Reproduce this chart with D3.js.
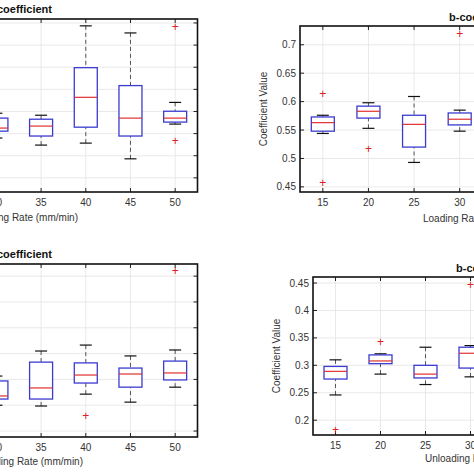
<!DOCTYPE html><html><head><meta charset="utf-8">
<script src="https://cdn.jsdelivr.net/npm/d3@7"></script>
<style>body{margin:0;background:#fff}svg{display:block}</style></head><body>
<script>
const ticksLeftTop=[0.3,0.4,0.5,0.6,0.7,0.8,0.9,1.0];
const ticksLeftBot=[0.2,0.3,0.4,0.5,0.6,0.7,0.8];
const ticksRightTop=[0.45,0.5,0.55,0.6,0.65,0.7];
const ticksRightBot=[0.2,0.25,0.3,0.35,0.4,0.45];
const xCats=[15,20,25,30,35,40,45,50];
// [cat, whiskerLow, q1, median, q3, whiskerHigh, outliers]
const statsTL=[[30,0.480,0.511,0.525,0.570,0.592,[]],[35,0.448,0.489,0.534,0.565,0.583,[]],[40,0.457,0.529,0.664,0.798,0.987,[]],[45,0.386,0.489,0.570,0.717,0.955,[]],[50,0.543,0.552,0.570,0.601,0.641,[0.982,0.466]]];
const statsTR=[[15,0.544,0.548,0.563,0.573,0.576,[0.613,0.456]],[20,0.553,0.571,0.583,0.592,0.598,[0.516]],[25,0.493,0.520,0.560,0.576,0.609,[]],[30,0.548,0.559,0.569,0.580,0.585,[0.719]]];
const statsBL=[[30,0.300,0.324,0.336,0.394,0.413,[]],[35,0.297,0.324,0.367,0.467,0.510,[]],[40,0.343,0.386,0.417,0.464,0.533,[0.258]],[45,0.312,0.370,0.421,0.444,0.491,[]],[50,0.370,0.398,0.425,0.471,0.514,[0.820]]];
const statsBR=[[15,0.246,0.275,0.289,0.298,0.310,[0.183]],[20,0.284,0.303,0.308,0.319,0.321,[0.343]],[25,0.265,0.277,0.284,0.300,0.333,[]],[30,0.279,0.295,0.322,0.333,0.336,[0.447]]];

const svg=d3.select("body").append("svg").attr("width",474).attr("height",474).style("font-family","Arial, 'Liberation Sans', sans-serif");

function panel(o){
  const x=d3.scaleLinear().domain([12.5,52.5]).range(o.xr);
  const y=d3.scaleLinear().domain(o.yd).range(o.yr);
  const g=svg.append("g");
  const [x0,x1]=o.xr,[yb,yt]=o.yr;
  const vis=xCats.filter(d=>x(d)>-5&&x(d)<480);
  g.selectAll(".gx").data(vis).join("line").attr("x1",d=>x(d)).attr("x2",d=>x(d)).attr("y1",yt).attr("y2",yb).attr("stroke","#e3e3e3").attr("stroke-width",0.8);
  g.selectAll(".gy").data(o.ticks).join("line").attr("x1",x0).attr("x2",x1).attr("y1",d=>y(d)).attr("y2",d=>y(d)).attr("stroke","#e3e3e3").attr("stroke-width",0.8);
  g.selectAll(".tx").data(vis).join("line").attr("x1",d=>x(d)).attr("x2",d=>x(d)).attr("y1",yb).attr("y2",yb-4).attr("stroke","#222");
  g.selectAll(".tx2").data(vis).join("line").attr("x1",d=>x(d)).attr("x2",d=>x(d)).attr("y1",yt).attr("y2",yt+4).attr("stroke","#222");
  g.selectAll(".ty").data(o.ticks).join("line").attr("x1",x0).attr("x2",x0+4).attr("y1",d=>y(d)).attr("y2",d=>y(d)).attr("stroke","#222");
  g.selectAll(".ty2").data(o.ticks).join("line").attr("x1",x1).attr("x2",x1-4).attr("y1",d=>y(d)).attr("y2",d=>y(d)).attr("stroke","#222");
  const hw=11.5;
  const b=g.selectAll(".b").data(o.stats).join("g");
  b.append("line").attr("x1",d=>x(d[0])).attr("x2",d=>x(d[0])).attr("y1",d=>y(d[5])).attr("y2",d=>y(d[4])).attr("stroke","#555").attr("stroke-dasharray","4,3");
  b.append("line").attr("x1",d=>x(d[0])).attr("x2",d=>x(d[0])).attr("y1",d=>y(d[1])).attr("y2",d=>y(d[2])).attr("stroke","#555").attr("stroke-dasharray","4,3");
  b.append("line").attr("x1",d=>x(d[0])-6).attr("x2",d=>x(d[0])+6).attr("y1",d=>y(d[5])).attr("y2",d=>y(d[5])).attr("stroke","#111").attr("stroke-width",1.2);
  b.append("line").attr("x1",d=>x(d[0])-6).attr("x2",d=>x(d[0])+6).attr("y1",d=>y(d[1])).attr("y2",d=>y(d[1])).attr("stroke","#111").attr("stroke-width",1.2);
  b.append("rect").attr("x",d=>x(d[0])-hw).attr("width",2*hw).attr("y",d=>y(d[4])).attr("height",d=>y(d[2])-y(d[4])).attr("fill","white").attr("stroke","#3b3bd0").attr("stroke-width",1.3);
  b.append("line").attr("x1",d=>x(d[0])-hw).attr("x2",d=>x(d[0])+hw).attr("y1",d=>y(d[3])).attr("y2",d=>y(d[3])).attr("stroke","#e03030").attr("stroke-width",1.2);
  b.selectAll("text").data(d=>d[6].map(v=>[d[0],v])).join("text").attr("x",d=>x(d[0])).attr("y",d=>y(d[1])+4).attr("text-anchor","middle").attr("fill","#e02020").attr("font-size",12).text("+");
  g.append("rect").attr("x",x0).attr("y",yt).attr("width",x1-x0).attr("height",yb-yt).attr("fill","none").attr("stroke","#111").attr("stroke-width",1.6);
  g.selectAll(".xl").data(vis).join("text").attr("x",d=>x(d)).attr("y",yb+14).attr("text-anchor","middle").attr("font-size",10).attr("fill","#333").text(d=>d);
  if(x0>0){
    g.selectAll(".yl").data(o.ticks).join("text").attr("x",x0-4).attr("y",d=>y(d)+3.5).attr("text-anchor","end").attr("font-size",10).attr("fill","#333").text(d=>d);
    g.append("text").attr("transform",`translate(${x0-33},${(yb+yt)/2}) rotate(-90)`).attr("text-anchor","middle").attr("font-size",10).attr("fill","#333").text("Coefficient Value");
  }
  g.append("text").attr("x",o.xlab[0]).attr("y",o.xlab[1]).attr("text-anchor",o.xlab[2]).attr("font-size",10).attr("fill","#333").text(o.xlab[3]);
  g.append("text").attr("x",o.title[0]).attr("y",o.title[1]).attr("text-anchor",o.title[2]).attr("font-size",11).attr("font-weight","bold").attr("fill","#111").text(o.title[3]);
}
panel({xr:[-160,197.5],yr:[192,19],yd:[0.236,1.018],ticks:ticksLeftTop,stats:statsTL,xlab:[78,221,"end","Loading Rate (mm/min)"],title:[52,13,"end","a-coefficient"]});
panel({xr:[300,665],yr:[192,26],yd:[0.441,0.733],ticks:ticksRightTop,stats:statsTR,xlab:[423,222,"start","Loading Rate (mm/min)"],title:[449,21,"start","b-coefficient"]});
panel({xr:[-160,197.5],yr:[437,264],yd:[0.177,0.847],ticks:ticksLeftBot,stats:statsBL,xlab:[83,465,"end","Unloading Rate (mm/min)"],title:[52,258,"end","a-coefficient"]});
panel({xr:[313,673],yr:[435,277],yd:[0.173,0.461],ticks:ticksRightBot,stats:statsBR,xlab:[425,462,"start","Unloading Rate (mm/min)"],title:[456,272,"start","b-coefficient"]});
</script></body></html>
